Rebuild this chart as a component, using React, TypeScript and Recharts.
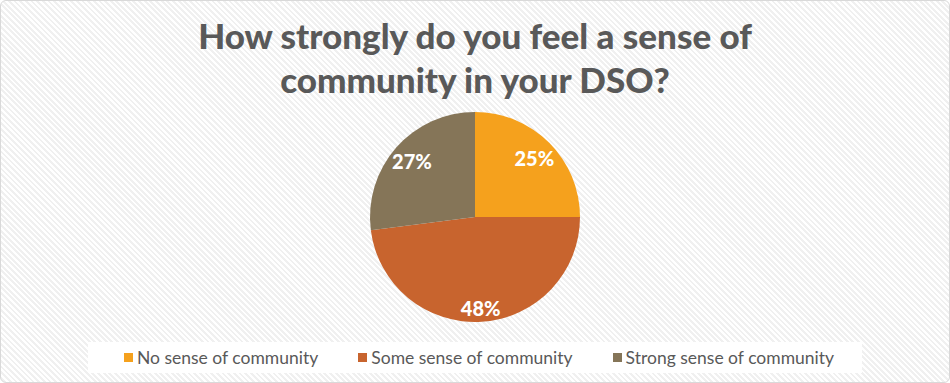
import React from 'react';
import { PieChart, Pie, Cell, Legend } from 'recharts';

const categories = ['No sense of community', 'Some sense of community', 'Strong sense of community'];
const shares = [25, 48, 27];
const colors = ['#F5A11D', '#C8642E', '#857558'];
const labelPos = [0.8, 0.87, 0.8];

const data = categories.map((name, i) => ({ name, value: shares[i] }));

const RAD = Math.PI / 180;

const renderLabel = (props: any) => {
  const { cx, cy, midAngle, outerRadius, value, index } = props;
  const r = outerRadius * labelPos[index];
  const x = cx + r * Math.cos(-midAngle * RAD);
  const y = cy + r * Math.sin(-midAngle * RAD);
  return (
    <text
      x={x}
      y={y}
      fill="#fff"
      textAnchor="middle"
      dominantBaseline="central"
      style={{ fontFamily: 'Lato', fontWeight: 900, fontSize: 20 }}
    >
      {value}%
    </text>
  );
};

const renderLegend = () => (
  <div
    style={{
      display: 'flex',
      justifyContent: 'center',
      gap: 40,
      background: '#fff',
      height: 31,
      alignItems: 'center',
      margin: '0 87px',
      paddingLeft: 8,
      fontFamily: 'Lato',
      fontSize: 17.5,
      color: '#595959',
    }}
  >
    {categories.map((c, i) => (
      <div key={c} style={{ display: 'flex', alignItems: 'center' }}>
        <span style={{ width: 9, height: 9, background: colors[i], marginRight: 4, display: 'inline-block' }} />
        <span>{c}</span>
      </div>
    ))}
  </div>
);

export default function App() {
  return (
    <div
      style={{
        position: 'absolute',
        left: 0,
        top: 0,
        width: 948,
        height: 381,
        border: '1px solid #d9d9d9',
        borderRadius: 6,
        background:
          'repeating-linear-gradient(45deg, #ffffff 0px, #ffffff 2px, #f0f0f0 2px, #f0f0f0 4px)',
        overflow: 'hidden',
      }}
    >
      <div
        style={{
          position: 'absolute',
          top: 12,
          left: 0,
          width: 948,
          textAlign: 'center',
          fontFamily: 'Lato',
          fontWeight: 900,
          fontSize: 35,
          lineHeight: '44px',
          color: '#595959',
        }}
      >
        How strongly do you feel a sense of
        <br />
        community in your DSO?
      </div>
      <PieChart width={948} height={381} margin={{ top: 0, right: 0, bottom: 0, left: 0 }}>
        <Pie
          data={data}
          dataKey="value"
          nameKey="name"
          cx={474}
          cy={216}
          outerRadius={105}
          startAngle={90}
          endAngle={-270}
          stroke="none"
          label={renderLabel}
          labelLine={false}
          isAnimationActive={false}
        >
          {data.map((d, i) => (
            <Cell key={`cell-${i}`} fill={colors[i]} />
          ))}
        </Pie>
        <Legend verticalAlign="bottom" content={renderLegend} wrapperStyle={{ bottom: 9 }} />
      </PieChart>
    </div>
  );
}
